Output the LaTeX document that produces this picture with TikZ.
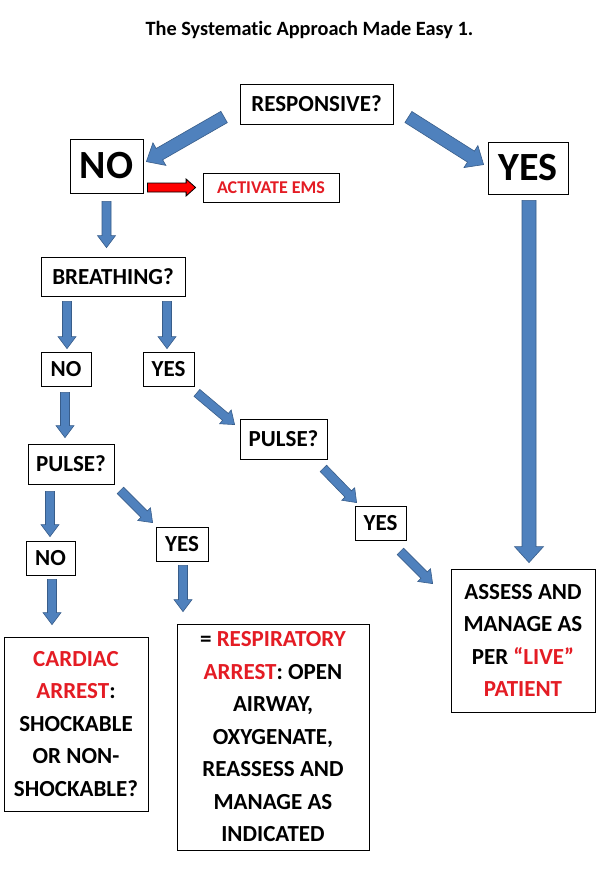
\documentclass[tikz,border=0pt]{standalone}
\usepackage{fontspec}
\setmainfont{Carlito}[Ligatures=NoCommon]
\usepackage{tikz}
\usetikzlibrary{calc}
\definecolor{arrowblue}{RGB}{79,129,189}
\definecolor{arrowedge}{RGB}{56,93,138}
\definecolor{alertred}{RGB}{228,28,36}

% block arrow: [style]{tail}{tip}{shaft half width}{head half width}{head length}
\newcommand{\fatarrow}[6][blockarrow]{%
  \coordinate (fa-a) at #2;
  \coordinate (fa-b) at #3;
  \coordinate (fa-n) at ($(fa-b)!#6!(fa-a)$);
  \filldraw[#1] ($(fa-a)!#4!90:(fa-b)$) -- ($(fa-n)!#4!90:(fa-b)$) -- ($(fa-n)!#5!90:(fa-b)$) -- (fa-b)
    -- ($(fa-n)!#5!-90:(fa-b)$) -- ($(fa-n)!#4!-90:(fa-b)$) -- ($(fa-a)!#4!-90:(fa-b)$) -- cycle;}

\begin{document}
\begin{tikzpicture}[x=1pt,y=-1pt,
    box/.style={draw=black,line width=0.8pt,inner sep=0pt,align=center,
      font=\bfseries\fontsize{23}{32.5}\selectfont},
    bigbox/.style={box,font=\bfseries\fontsize{40}{44}\selectfont},
    blockarrow/.style={fill=arrowblue,draw=arrowedge,line width=0.6pt,line join=miter},
    redarrow/.style={fill=red,draw=black,line width=0.8pt,line join=miter}] % systematic approach
       \fill[white] (0,0) rectangle (599,870);
       \useasboundingbox (0,0) rectangle (599,870);
       \node[anchor=base,font=\bfseries\fontsize{20.3}{24}\selectfont] (title) at (309.5,35) {The Systematic Approach Made Easy 1.};
       \node[box,minimum width=153pt,minimum height=40pt] (resp) at (316.5,104) {RESPONSIVE?};
       \node[bigbox,minimum width=73pt,minimum height=54pt] (no) at (106.5,166) {NO};
       \node[bigbox,minimum width=80pt,minimum height=52pt] (yes) at (528,168) {YES};
       \node[box,minimum width=136pt,minimum height=29pt,font=\bfseries\fontsize{18}{22}\selectfont,text=alertred] (ems) at (271,187.5) {ACTIVATE EMS};
       \node[box,minimum width=144pt,minimum height=39pt] (breath) at (113,276.5) {BREATHING?};
       \node[box,minimum width=50pt,minimum height=34pt] (no2) at (66,369) {NO};
       \node[box,minimum width=51pt,minimum height=34pt] (yes2) at (168.5,369) {YES};
       \node[box,minimum width=86pt,minimum height=40pt] (pulse1) at (71,464) {PULSE?};
       \node[box,minimum width=87pt,minimum height=40pt] (pulse2) at (283.5,439) {PULSE?};
       \node[box,minimum width=51pt,minimum height=34pt] (yes3) at (380.5,523) {YES};
       \node[box,minimum width=49pt,minimum height=34pt] (no3) at (50.5,558) {NO};
       \node[box,minimum width=52pt,minimum height=34pt] (yes4) at (182,544) {YES};
       \node[box,minimum width=144pt,minimum height=174pt] (cardiac) at (76,724)
            {\textcolor{alertred}{CARDIAC}\\\textcolor{alertred}{ARREST}:\\SHOCKABLE\\OR NON-\\SHOCKABLE?};
       \node[box,minimum width=192pt,minimum height=226pt] (resparr) at (273,737)
            {= \textcolor{alertred}{RESPIRATORY}\\\textcolor{alertred}{ARREST}: OPEN\\AIRWAY,\\OXYGENATE,\\REASSESS AND\\MANAGE AS\\INDICATED};
       \node[box,minimum width=144pt,minimum height=143pt] (assess) at (523,640.5)
            {ASSESS AND\\MANAGE AS\\PER \textcolor{alertred}{“LIVE”}\\\textcolor{alertred}{PATIENT}};
       % arrows
       \fatarrow{($(resp.west)+(-15.5,13)$)}{($(no.north east)+(3,23)$)}{6.5pt}{13pt}{15pt}
       \fatarrow{($(resp.east)+(15,13)$)}{($(yes.north west)+(-4,23)$)}{6.5pt}{13pt}{15pt}
       \fatarrow[redarrow]{($(no.east |- ems.west)+(4,0)$)}{($(ems.west)+(-7,0)$)}{4.5pt}{8.5pt}{9.5pt}
       \fatarrow{($(no.south)+(0,8)$)}{($(no.south |- breath.north)+(0,-9)$)}{4.5pt}{9pt}{12pt}
       \fatarrow{($(yes.south)+(1,6)$)}{($(yes.south |- assess.north)+(1,-6)$)}{7pt}{14.5pt}{16pt}
       \fatarrow{($(breath.south -| no2.north)+(1,5)$)}{($(no2.north)+(1,-3)$)}{4.5pt}{9pt}{12pt}
       \fatarrow{($(breath.south -| yes2.north)+(-1.5,5)$)}{($(yes2.north)+(-1.5,-3)$)}{4.5pt}{9pt}{12pt}
       \fatarrow{($(no2.south)+(-1,6)$)}{($(pulse1.north -| no2.south)+(-1,-6)$)}{4.5pt}{9pt}{12pt}
       \fatarrow{($(yes2.south east)+(2.5,6.5)$)}{($(pulse2.north west)+(-5,6)$)}{4.5pt}{9pt}{12pt}
       \fatarrow{($(pulse2.south east)+(-4,9)$)}{($(yes3.north west)+(2,-3)$)}{4.5pt}{9pt}{12pt}
       \fatarrow{($(yes3.south east)+(-6,11)$)}{($(assess.north west)+(-18,15)$)}{4.5pt}{9pt}{12pt}
       \fatarrow{($(pulse1.south -| no3.north)+(-0.5,7)$)}{($(no3.north)+(-0.5,-4)$)}{4.5pt}{9pt}{12pt}
       \fatarrow{($(pulse1.south east)+(6,6)$)}{($(yes4.north west)+(-3,-4)$)}{4.5pt}{9pt}{12pt}
       \fatarrow{($(no3.south)+(1.5,4)$)}{($(no3.south |- cardiac.north)+(1.5,-12)$)}{4.5pt}{9pt}{12pt}
       \fatarrow{($(yes4.south)+(1,4)$)}{($(yes4.south |- resparr.north)+(1,-12)$)}{4.5pt}{9pt}{12pt}
\end{tikzpicture}
\end{document}
